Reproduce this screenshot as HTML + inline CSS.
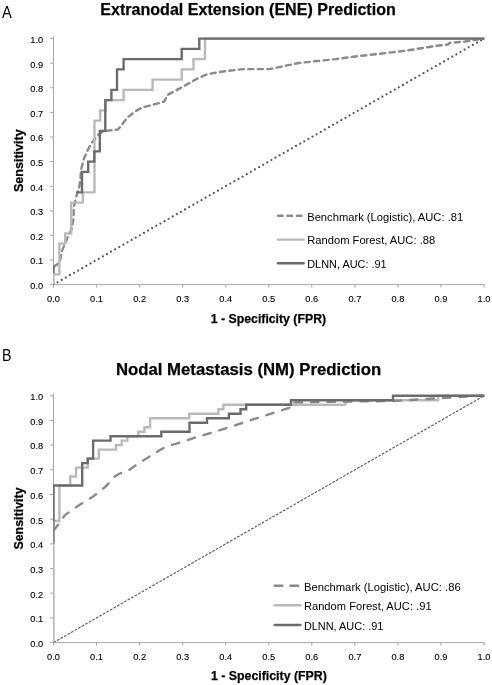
<!DOCTYPE html>
<html lang="en">
<head>
<meta charset="utf-8">
<title>ROC curves: ENE and NM prediction</title>
<style>
html,body{margin:0;padding:0;background:#ffffff;}
body{width:492px;height:685px;overflow:hidden;}
svg{display:block;font-family:"Liberation Sans", sans-serif;}
</style>
</head>
<body>
<svg width="492" height="685" viewBox="0 0 492 685">
<rect width="492" height="685" fill="#ffffff"/>
<defs>
<clipPath id="clipA"><rect x="53.0" y="35.8" width="431.7" height="249.4"/></clipPath>
<clipPath id="clipB"><rect x="53.0" y="393.2" width="431.7" height="250.0"/></clipPath>
</defs>

<!-- Panel A -->
<text x="2.0" y="17.8" font-size="16" fill="#000000" textLength="9.8" lengthAdjust="spacingAndGlyphs">A</text>
<text x="100.3" y="15.3" font-size="16.6" font-weight="bold" fill="#000000" stroke="#000000" stroke-width="0.25" textLength="295.5" lengthAdjust="spacingAndGlyphs">Extranodal Extension (ENE) Prediction</text>
<path d="M53.5 36.30V284.6H484.5" fill="none" stroke="#a6a6a6" stroke-width="1"/>
<path d="M50.00 284.60H53.5M53.50 284.6V287.60M50.00 260.00H53.5M96.55 284.6V287.60M50.00 235.40H53.5M139.60 284.6V287.60M50.00 210.80H53.5M182.65 284.6V287.60M50.00 186.20H53.5M225.70 284.6V287.60M50.00 161.60H53.5M268.75 284.6V287.60M50.00 137.00H53.5M311.80 284.6V287.60M50.00 112.40H53.5M354.85 284.6V287.60M50.00 87.80H53.5M397.90 284.6V287.60M50.00 63.20H53.5M440.95 284.6V287.60M50.00 38.60H53.5M484.00 284.6V287.60" fill="none" stroke="#a6a6a6" stroke-width="1"/>
<g font-size="9.9" fill="#000000" stroke="#000000" stroke-width="0.12">
<text x="30.30" y="288.90" textLength="12.9" lengthAdjust="spacingAndGlyphs">0.0</text>
<text x="47.05" y="301.70" textLength="12.9" lengthAdjust="spacingAndGlyphs">0.0</text>
<text x="30.30" y="264.30" textLength="12.9" lengthAdjust="spacingAndGlyphs">0.1</text>
<text x="90.10" y="301.70" textLength="12.9" lengthAdjust="spacingAndGlyphs">0.1</text>
<text x="30.30" y="239.70" textLength="12.9" lengthAdjust="spacingAndGlyphs">0.2</text>
<text x="133.15" y="301.70" textLength="12.9" lengthAdjust="spacingAndGlyphs">0.2</text>
<text x="30.30" y="215.10" textLength="12.9" lengthAdjust="spacingAndGlyphs">0.3</text>
<text x="176.20" y="301.70" textLength="12.9" lengthAdjust="spacingAndGlyphs">0.3</text>
<text x="30.30" y="190.50" textLength="12.9" lengthAdjust="spacingAndGlyphs">0.4</text>
<text x="219.25" y="301.70" textLength="12.9" lengthAdjust="spacingAndGlyphs">0.4</text>
<text x="30.30" y="165.90" textLength="12.9" lengthAdjust="spacingAndGlyphs">0.5</text>
<text x="262.30" y="301.70" textLength="12.9" lengthAdjust="spacingAndGlyphs">0.5</text>
<text x="30.30" y="141.30" textLength="12.9" lengthAdjust="spacingAndGlyphs">0.6</text>
<text x="305.35" y="301.70" textLength="12.9" lengthAdjust="spacingAndGlyphs">0.6</text>
<text x="30.30" y="116.70" textLength="12.9" lengthAdjust="spacingAndGlyphs">0.7</text>
<text x="348.40" y="301.70" textLength="12.9" lengthAdjust="spacingAndGlyphs">0.7</text>
<text x="30.30" y="92.10" textLength="12.9" lengthAdjust="spacingAndGlyphs">0.8</text>
<text x="391.45" y="301.70" textLength="12.9" lengthAdjust="spacingAndGlyphs">0.8</text>
<text x="30.30" y="67.50" textLength="12.9" lengthAdjust="spacingAndGlyphs">0.9</text>
<text x="434.50" y="301.70" textLength="12.9" lengthAdjust="spacingAndGlyphs">0.9</text>
<text x="30.30" y="42.90" textLength="12.9" lengthAdjust="spacingAndGlyphs">1.0</text>
<text x="477.55" y="301.70" textLength="12.9" lengthAdjust="spacingAndGlyphs">1.0</text>
</g>
<text transform="translate(23.4 192.1) rotate(-90)" font-size="13.5" font-weight="bold" fill="#000000" stroke="#000000" stroke-width="0.25" textLength="62.8" lengthAdjust="spacingAndGlyphs">Sensitivity</text>
<text x="210.8" y="322.7" font-size="13.5" font-weight="bold" fill="#000000" stroke="#000000" stroke-width="0.25" textLength="115.3" lengthAdjust="spacingAndGlyphs">1 - Specificity (FPR)</text>
<g clip-path="url(#clipA)">
<line x1="53.5" y1="284.6" x2="484.0" y2="38.6" stroke="#555555" stroke-width="2.25" stroke-linecap="round" stroke-dasharray="0 4.735"/>
<polyline points="53.50,266.60 57.00,264.60 59.30,262.50 60.60,258.00 61.40,254.40 62.30,250.10 64.60,244.60 67.60,237.30 71.60,229.40 73.40,219.20 73.80,207.50 76.20,196.80 79.30,186.60 80.50,178.00 81.10,169.60 84.00,158.50 87.80,150.00 90.60,144.40 96.70,136.30 102.80,131.40 111.00,130.20 118.00,129.60 123.20,123.00 127.20,117.60 135.40,111.30 142.50,107.40 149.60,105.60 164.40,101.50 167.40,95.00 180.70,87.90 196.90,78.80 207.00,74.30 221.30,71.70 243.20,69.10 269.60,69.10 298.70,63.00 335.70,59.10 359.50,55.90 378.90,53.90 407.70,50.40 436.60,45.80 448.00,44.60 449.60,42.90 465.40,41.50 484.00,38.50" fill="none" stroke="#8a8a8a" stroke-width="2.4" stroke-linejoin="round" stroke-linecap="round" stroke-dasharray="5.2 4.3"/>
<line x1="53.5" y1="274.3" x2="53.5" y2="265.6" stroke="#6b6b6b" stroke-width="2.4"/>
<polyline points="53.50,284.50 53.50,274.35 59.40,274.35 59.40,243.60 65.20,243.60 65.20,233.35 71.20,233.35 71.20,202.60 82.80,202.60 82.80,192.35 94.50,192.35 94.50,120.60 100.20,120.60 100.20,110.35 105.60,110.35 105.60,100.10 123.60,100.10 123.60,89.85 152.60,89.85 152.60,79.60 181.70,79.60 181.70,69.35 193.50,69.35 193.50,59.10 205.00,59.10 205.00,38.60 484.00,38.60" fill="none" stroke="#b9b9b9" stroke-width="2.4" stroke-linejoin="miter"/>
<polyline points="76.20,192.35 82.00,192.35 82.00,171.85 88.20,171.85 88.20,161.60 94.30,161.60 94.30,151.35 99.80,151.35 99.80,130.85 105.30,130.85 105.30,100.10 111.40,100.10 111.40,89.85 117.00,89.85 117.00,69.35 123.60,69.35 123.60,59.10 181.70,59.10 181.70,48.85 199.30,48.85 199.30,38.60 484.20,38.60" fill="none" stroke="#6b6b6b" stroke-width="2.4" stroke-linejoin="miter"/>
</g>
<line x1="278.0" y1="215.7" x2="302.6" y2="215.7" stroke="#8a8a8a" stroke-width="2.4" stroke-linecap="round" stroke-dasharray="4.6 4.85"/>
<line x1="278.0" y1="239.6" x2="303.6" y2="239.6" stroke="#b9b9b9" stroke-width="2.4" stroke-linecap="round"/>
<line x1="278.0" y1="263.3" x2="303.6" y2="263.3" stroke="#6b6b6b" stroke-width="2.4" stroke-linecap="round"/>
<g font-size="11.3" fill="#000000">
<text x="307.2" y="220.5" textLength="156.0" lengthAdjust="spacingAndGlyphs">Benchmark (Logistic), AUC: .81</text>
<text x="307.2" y="244.1" textLength="128.0" lengthAdjust="spacingAndGlyphs">Random Forest, AUC: .88</text>
<text x="307.2" y="267.8" textLength="79.5" lengthAdjust="spacingAndGlyphs">DLNN, AUC: .91</text>
</g>
<!-- Panel B -->
<text x="2.0" y="361.3" font-size="16" fill="#000000" textLength="9.5" lengthAdjust="spacingAndGlyphs">B</text>
<text x="115.9" y="374.5" font-size="16.6" font-weight="bold" fill="#000000" stroke="#000000" stroke-width="0.25" textLength="265.3" lengthAdjust="spacingAndGlyphs">Nodal Metastasis (NM) Prediction</text>
<path d="M53.5 393.50V642.6H484.5" fill="none" stroke="#a6a6a6" stroke-width="1"/>
<path d="M50.00 642.60H53.5M53.50 642.6V645.60M50.00 617.92H53.5M96.55 642.6V645.60M50.00 593.24H53.5M139.60 642.6V645.60M50.00 568.56H53.5M182.65 642.6V645.60M50.00 543.88H53.5M225.70 642.6V645.60M50.00 519.20H53.5M268.75 642.6V645.60M50.00 494.52H53.5M311.80 642.6V645.60M50.00 469.84H53.5M354.85 642.6V645.60M50.00 445.16H53.5M397.90 642.6V645.60M50.00 420.48H53.5M440.95 642.6V645.60M50.00 395.80H53.5M484.00 642.6V645.60" fill="none" stroke="#a6a6a6" stroke-width="1"/>
<g font-size="9.9" fill="#000000" stroke="#000000" stroke-width="0.12">
<text x="30.30" y="646.90" textLength="12.9" lengthAdjust="spacingAndGlyphs">0.0</text>
<text x="47.05" y="659.70" textLength="12.9" lengthAdjust="spacingAndGlyphs">0.0</text>
<text x="30.30" y="622.22" textLength="12.9" lengthAdjust="spacingAndGlyphs">0.1</text>
<text x="90.10" y="659.70" textLength="12.9" lengthAdjust="spacingAndGlyphs">0.1</text>
<text x="30.30" y="597.54" textLength="12.9" lengthAdjust="spacingAndGlyphs">0.2</text>
<text x="133.15" y="659.70" textLength="12.9" lengthAdjust="spacingAndGlyphs">0.2</text>
<text x="30.30" y="572.86" textLength="12.9" lengthAdjust="spacingAndGlyphs">0.3</text>
<text x="176.20" y="659.70" textLength="12.9" lengthAdjust="spacingAndGlyphs">0.3</text>
<text x="30.30" y="548.18" textLength="12.9" lengthAdjust="spacingAndGlyphs">0.4</text>
<text x="219.25" y="659.70" textLength="12.9" lengthAdjust="spacingAndGlyphs">0.4</text>
<text x="30.30" y="523.50" textLength="12.9" lengthAdjust="spacingAndGlyphs">0.5</text>
<text x="262.30" y="659.70" textLength="12.9" lengthAdjust="spacingAndGlyphs">0.5</text>
<text x="30.30" y="498.82" textLength="12.9" lengthAdjust="spacingAndGlyphs">0.6</text>
<text x="305.35" y="659.70" textLength="12.9" lengthAdjust="spacingAndGlyphs">0.6</text>
<text x="30.30" y="474.14" textLength="12.9" lengthAdjust="spacingAndGlyphs">0.7</text>
<text x="348.40" y="659.70" textLength="12.9" lengthAdjust="spacingAndGlyphs">0.7</text>
<text x="30.30" y="449.46" textLength="12.9" lengthAdjust="spacingAndGlyphs">0.8</text>
<text x="391.45" y="659.70" textLength="12.9" lengthAdjust="spacingAndGlyphs">0.8</text>
<text x="30.30" y="424.78" textLength="12.9" lengthAdjust="spacingAndGlyphs">0.9</text>
<text x="434.50" y="659.70" textLength="12.9" lengthAdjust="spacingAndGlyphs">0.9</text>
<text x="30.30" y="400.10" textLength="12.9" lengthAdjust="spacingAndGlyphs">1.0</text>
<text x="477.55" y="659.70" textLength="12.9" lengthAdjust="spacingAndGlyphs">1.0</text>
</g>
<text transform="translate(23.4 549.6) rotate(-90)" font-size="13.5" font-weight="bold" fill="#000000" stroke="#000000" stroke-width="0.25" textLength="62.2" lengthAdjust="spacingAndGlyphs">Sensitivity</text>
<text x="210.9" y="679.9" font-size="13.5" font-weight="bold" fill="#000000" stroke="#000000" stroke-width="0.25" textLength="116.0" lengthAdjust="spacingAndGlyphs">1 - Specificity (FPR)</text>
<g clip-path="url(#clipB)">
<line x1="53.5" y1="642.6" x2="484.0" y2="395.8" stroke="#555555" stroke-width="1.1" stroke-dasharray="2.7 1.37"/>
<polyline points="53.50,642.50 53.50,521.00 59.40,521.00 59.40,485.55 70.30,485.55 70.30,476.57 76.00,476.57 76.00,467.60 87.70,467.60 87.70,458.62 98.80,458.62 98.80,449.65 115.90,449.65 115.90,445.16 121.70,445.16 121.70,440.67 127.40,440.67 127.40,436.19 138.30,436.19 138.30,431.70 144.40,431.70 144.40,427.21 150.10,427.21 150.10,418.24 189.20,418.24 189.20,413.75 218.40,413.75 218.40,409.26 223.40,409.26 223.40,404.77 344.80,404.77 348.00,400.29 438.00,400.29 438.00,395.80 484.00,395.80" fill="none" stroke="#b9b9b9" stroke-width="2.4" stroke-linejoin="miter"/>
<line x1="53.5" y1="543.7" x2="53.5" y2="521" stroke="#8a8a8a" stroke-width="2.4"/>
<polyline points="53.50,530.80 56.50,526.70 60.60,521.90 64.60,515.40 71.10,510.50 80.90,504.00 93.90,495.90 105.30,486.90 115.00,476.30 119.90,473.50 129.70,469.60 134.20,466.30 148.50,457.20 160.70,449.60 166.70,446.40 181.00,442.30 197.20,436.80 213.50,432.20 220.00,430.10 291.80,407.00 293.00,402.40 346.00,401.60 393.00,401.00 484.00,395.60" fill="none" stroke="#8a8a8a" stroke-width="2.4" stroke-linejoin="round" stroke-linecap="round" stroke-dasharray="7.5 9.0"/>
<polyline points="53.50,521.00 53.50,485.55 82.20,485.55 82.20,463.11 87.70,463.11 87.70,458.62 93.10,458.62 93.10,440.67 110.50,440.67 110.50,436.19 161.30,436.19 161.30,431.70 189.50,431.70 189.50,422.72 207.00,422.72 207.00,418.24 228.90,418.24 228.90,413.75 240.50,413.75 240.50,409.26 246.20,409.26 246.20,404.77 291.00,404.77 291.00,400.29 393.00,400.29 393.00,395.80 484.60,395.80" fill="none" stroke="#6b6b6b" stroke-width="2.4" stroke-linejoin="miter"/>
</g>
<line x1="274.6" y1="585.8" x2="299.4" y2="585.8" stroke="#8a8a8a" stroke-width="2.4" stroke-linecap="round" stroke-dasharray="7.8 8.0"/>
<line x1="274.6" y1="605.3" x2="300.4" y2="605.3" stroke="#b9b9b9" stroke-width="2.4" stroke-linecap="round"/>
<line x1="274.6" y1="625.0" x2="300.4" y2="625.0" stroke="#6b6b6b" stroke-width="2.4" stroke-linecap="round"/>
<g font-size="11.3" fill="#000000">
<text x="303.9" y="590.7" textLength="156.8" lengthAdjust="spacingAndGlyphs">Benchmark (Logistic), AUC: .86</text>
<text x="303.9" y="610.2" textLength="127.7" lengthAdjust="spacingAndGlyphs">Random Forest, AUC: .91</text>
<text x="303.9" y="629.9" textLength="79.5" lengthAdjust="spacingAndGlyphs">DLNN, AUC: .91</text>
</g>
</svg>
</body>
</html>
